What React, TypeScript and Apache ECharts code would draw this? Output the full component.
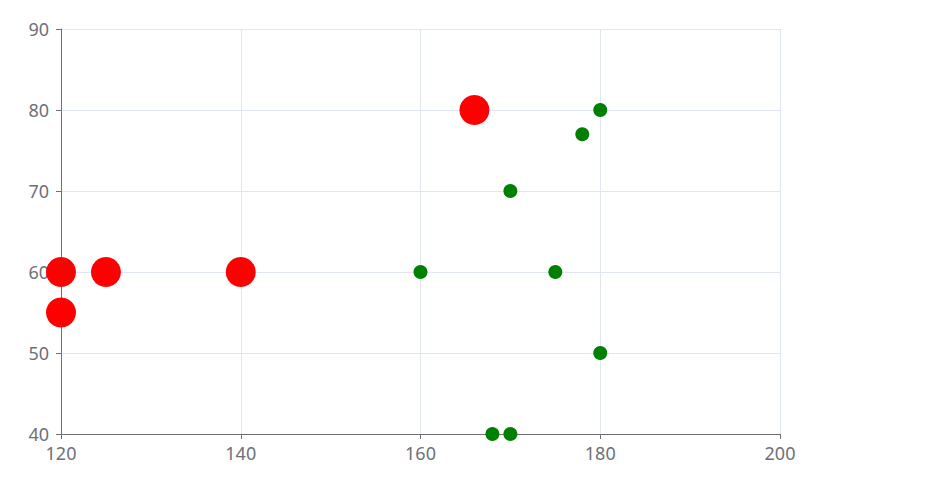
import * as echarts from 'echarts';
import React, { useEffect, useRef } from 'react';

// red group (big dots)
const redX = [120, 125, 140, 120, 166];
const redY = [60, 60, 60, 55, 80];
// green group (small dots)
const greenX = [160, 170, 175, 178, 180, 180, 168, 170];
const greenY = [60, 70, 60, 77, 80, 50, 40, 40];

const axisStyle = {
  axisLine: { show: true, lineStyle: { color: '#6E7079' } },
  axisTick: { show: true },
  splitLine: { show: true, lineStyle: { color: '#E0E6F1' } },
};
const labelStyle = { fontSize: 18, color: '#6E7079', fontFamily: 'Noto Sans' };

const App: React.FC = () => {
  const chartRef = useRef<HTMLDivElement>(null);

  useEffect(() => {
    const myChart = echarts.init(chartRef.current!, null, { renderer: 'svg' });

    const option = {
      animation: false,
      grid: { left: 61, right: 164, top: 29, bottom: 46 },
      xAxis: {
        type: 'value', min: 120, max: 200, interval: 20, ...axisStyle,
        axisLabel: { ...labelStyle, margin: 10 },
      },
      yAxis: {
        type: 'value', min: 40, max: 90, interval: 10, ...axisStyle,
        axisLabel: { ...labelStyle, margin: 12 },
      },
      series: [
        {
          type: 'scatter',
          symbolSize: 14,
          itemStyle: { color: 'green', opacity: 1 },
          data: greenX.map((x, i) => [x, greenY[i]]),
        },
        {
          type: 'scatter',
          symbolSize: 30,
          itemStyle: { color: 'red', opacity: 1 },
          data: redX.map((x, i) => [x, redY[i]]),
        },
      ],
    };

    myChart.setOption(option);

    return () => {
      myChart.dispose();
    };
  }, []);

  return (
    <div
      ref={chartRef}
      style={{ position: 'absolute', left: 0, top: 0, width: '944px', height: '480px' }}
    />
  );
};

export default App;
